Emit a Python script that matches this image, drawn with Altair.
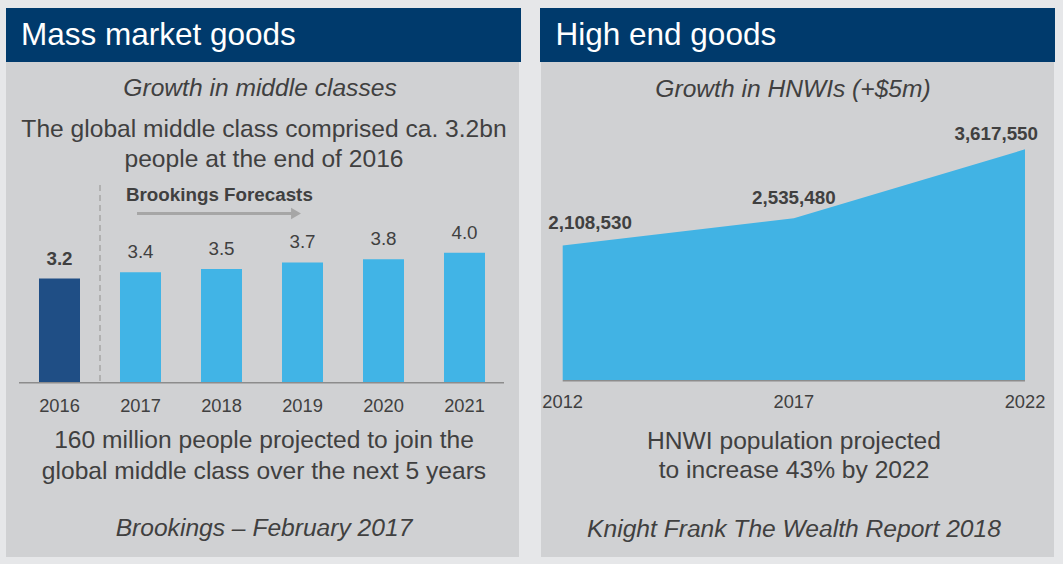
import altair as alt
import pandas as pd

# ---- data ----
mid_years = ["2016", "2017", "2018", "2019", "2020", "2021"]
mid_values = [3.2, 3.4, 3.5, 3.7, 3.8, 4.0]
mid_status = ["Actual", "Forecast", "Forecast", "Forecast", "Forecast", "Forecast"]

hnwi_years = [2012, 2017, 2022]
hnwi_values = [2108530, 2535480, 3617550]

mid_df = pd.DataFrame({"year": mid_years, "value": mid_values, "status": mid_status})
hnwi_df = pd.DataFrame({"year": hnwi_years, "hnwi": hnwi_values})
one = pd.DataFrame({"k": [0]})

FONT = "Liberation Sans"
TXT = "#404040"
NAVY = "#003a6c"
BODY = "#d0d1d3"
BG = "#e6e7e9"
LIGHT = "#41b4e6"
DARK = "#1f4e85"
GREY = "#a6a6a6"

HEAD = 31.5
BODY_FS = 24.6
LAB = 18.8
YEAR = 18.3


def box(x1, x2, y1, y2, color):
    return alt.Chart(one).mark_rect(color=color).encode(
        x=alt.value(x1), x2=alt.value(x2), y=alt.value(y1), y2=alt.value(y2)
    )


def label(text, x, y, size, color=TXT, align="center", italic=False, bold=False):
    kw = {}
    if italic:
        kw["fontStyle"] = "italic"
    if bold:
        kw["fontWeight"] = "bold"
    return alt.Chart(one).mark_text(
        font=FONT, fontSize=size, color=color, align=align, baseline="middle", **kw
    ).encode(x=alt.value(x), y=alt.value(y), text=alt.value(text))


def hrule(x1, x2, y, color, width, dash=None):
    kw = {"strokeDash": dash} if dash else {}
    return alt.Chart(one).mark_rule(color=color, strokeWidth=width, **kw).encode(
        x=alt.value(x1), x2=alt.value(x2), y=alt.value(y)
    )


def vrule(x, y1, y2, color, width, dash=None):
    kw = {"strokeDash": dash} if dash else {}
    return alt.Chart(one).mark_rule(color=color, strokeWidth=width, **kw).encode(
        x=alt.value(x), y=alt.value(y1), y2=alt.value(y2)
    )


# ---- scales ----
xs_mid = alt.Scale(domain=mid_years, range=[19, 505], paddingInner=0.4938, paddingOuter=0.2469)
ys_mid = alt.Scale(domain=[0, 4], range=[382.3, 252.7], nice=False, zero=True)
xs_h = alt.Scale(domain=[2012, 2022], range=[562.7, 1025], nice=False, zero=False)
ys_h = alt.Scale(domain=[0, 3617550], range=[380, 149.3], nice=False, zero=True)

X_MID = alt.X("year:O", scale=xs_mid, axis=None)
Y_MID = alt.Y("value:Q", scale=ys_mid, axis=None)
X_H = alt.X("year:Q", scale=xs_h, axis=None)
Y_H = alt.Y("hnwi:Q", scale=ys_h, axis=None)

# ---- left panel ----
bars = alt.Chart(mid_df).mark_bar().encode(
    x=X_MID,
    y=Y_MID,
    color=alt.Color("status:N", scale=alt.Scale(domain=["Actual", "Forecast"], range=[DARK, LIGHT]), legend=None),
)
bar_lab_actual = alt.Chart(mid_df).transform_filter(alt.datum.status == "Actual").mark_text(
    font=FONT, fontSize=LAB, fontWeight="bold", color=TXT, baseline="middle", dy=-20
).encode(x=X_MID, y=Y_MID, text=alt.Text("value:Q", format=".1f"))
bar_lab_fc = alt.Chart(mid_df).transform_filter(alt.datum.status == "Forecast").mark_text(
    font=FONT, fontSize=LAB, color=TXT, baseline="middle", dy=-20
).encode(x=X_MID, y=Y_MID, text=alt.Text("value:Q", format=".1f"))
bar_years = alt.Chart(mid_df).mark_text(
    font=FONT, fontSize=YEAR, color=TXT, baseline="middle"
).encode(x=X_MID, y=alt.value(406.7), text="year:N")

# ---- right panel ----
area = alt.Chart(hnwi_df).mark_area(color="#41b3e4", opacity=1).encode(x=X_H, y=Y_H)
h_first = alt.Chart(hnwi_df).transform_filter(alt.datum.year == 2012).mark_text(
    font=FONT, fontSize=LAB, fontWeight="bold", color=TXT, baseline="middle", align="left", dx=-14.4, dy=-23
).encode(x=X_H, y=Y_H, text=alt.Text("hnwi:Q", format=",d"))
h_mid = alt.Chart(hnwi_df).transform_filter(alt.datum.year == 2017).mark_text(
    font=FONT, fontSize=LAB, fontWeight="bold", color=TXT, baseline="middle", align="center", dy=-20
).encode(x=X_H, y=Y_H, text=alt.Text("hnwi:Q", format=",d"))
h_last = alt.Chart(hnwi_df).transform_filter(alt.datum.year == 2022).mark_text(
    font=FONT, fontSize=LAB, fontWeight="bold", color=TXT, baseline="middle", align="right", dx=13, dy=-15
).encode(x=X_H, y=Y_H, text=alt.Text("hnwi:Q", format=",d"))
h_years = alt.Chart(hnwi_df).mark_text(
    font=FONT, fontSize=YEAR, color=TXT, baseline="middle"
).encode(x=X_H, y=alt.value(402.7), text=alt.Text("year:Q", format="d"))

layers = [
    # panels
    box(6, 519, 62, 557, BODY),
    box(6, 521, 8, 62, NAVY),
    box(541, 1054, 62, 557, BODY),
    box(540, 1055, 8, 62, NAVY),
    # left texts
    label("Mass market goods", 21, 36, HEAD, color="white", align="left"),
    label("Growth in middle classes", 260, 88.5, BODY_FS, italic=True),
    label("The global middle class comprised ca. 3.2bn", 264, 130, BODY_FS),
    label("people at the end of 2016", 264, 159.5, BODY_FS),
    label("Brookings Forecasts", 126, 195, LAB, bold=True, align="left"),
    label("160 million people projected to join the", 264, 440.7, BODY_FS),
    label("global middle class over the next 5 years", 264, 471.7, BODY_FS),
    label("Brookings \u2013 February 2017", 264, 528.5, BODY_FS, italic=True),
    # left decorations
    vrule(100, 185, 382, GREY, 1.5, dash=[6, 4]),
    hrule(137, 292, 213.5, GREY, 3),
    alt.Chart(one).mark_point(shape="triangle-right", filled=True, color=GREY, opacity=1, size=130).encode(
        x=alt.value(296), y=alt.value(213.5)
    ),
    bars,
    hrule(19, 504, 382.8, "#8c8c8c", 1.5),
    bar_lab_actual,
    bar_lab_fc,
    bar_years,
    # right texts
    label("High end goods", 555.5, 36, HEAD, color="white", align="left"),
    label("Growth in HNWIs (+$5m)", 793, 90, BODY_FS, italic=True),
    label("HNWI population projected", 794, 442.3, BODY_FS),
    label("to increase 43% by 2022", 794, 470.5, BODY_FS),
    label("Knight Frank The Wealth Report 2018", 794, 530, BODY_FS, italic=True),
    area,
    hrule(562.7, 1025, 380.8, "#8c8c8c", 1.5),
    h_first,
    h_mid,
    h_last,
    h_years,
]

chart = (
    alt.layer(*layers)
    .resolve_scale(x="independent", y="independent", color="independent")
    .properties(width=1063, height=564, background=BG, padding=0, autosize="none")
    .configure_view(stroke=None)
)

chart.save("out.html", embed_options={"renderer": "svg", "actions": False})
